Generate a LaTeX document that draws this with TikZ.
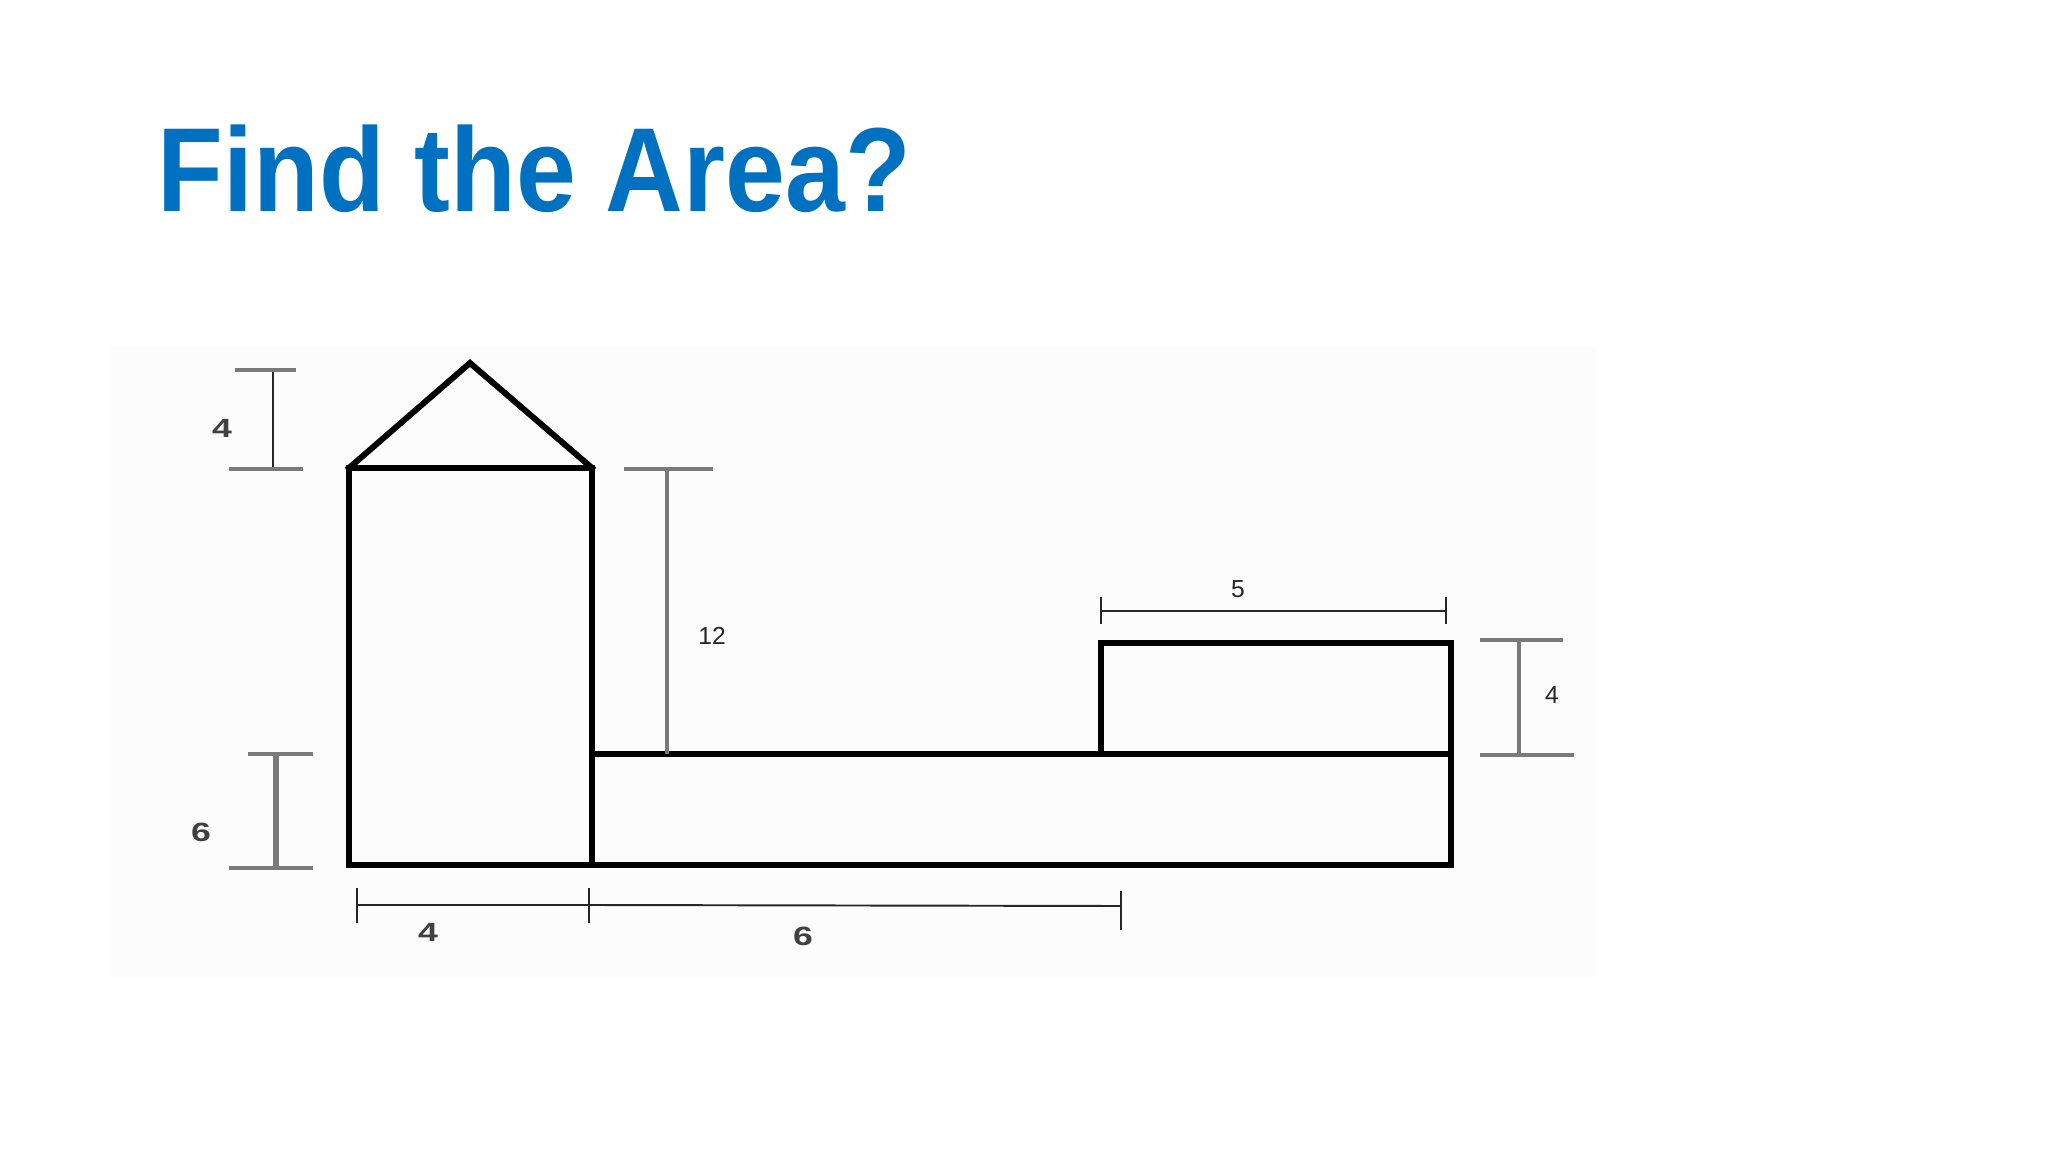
\documentclass[tikz,border=0pt]{standalone}
\usepackage{fontspec}
\setmainfont{Liberation Sans}
\definecolor{titleblue}{HTML}{0070C0}
\definecolor{dimgray}{HTML}{7A7A7A}
\begin{document}
\begin{tikzpicture}[x=0.01cm,y=-0.01cm,
  figline/.style={draw=black, line width=1.7pt, line join=miter, line cap=rect},
  dimthin/.style={draw=black!85, line width=0.55pt},
  dimtick/.style={draw=dimgray, line width=1.2pt},
  dimgrey/.style={draw=dimgray, line width=1.4pt},
  dimlabel/.style={font=\fontsize{7}{8}\selectfont, inner sep=0pt, text=black!85},
  widelabel/.style={dimlabel, font=\fontsize{7.5}{8}\selectfont\bfseries, text=black!75, xscale=1.35},
]
\useasboundingbox[fill=white] (0,0) rectangle (2048,1152);
\fill[black!1] (111,346) rectangle (1596,977);
\node[anchor=base west, inner sep=0pt, text=titleblue, xscale=0.9, font=\fontsize{34}{40}\selectfont\bfseries] (title) at (157,212) {Find the Area?};

% figure corners
\coordinate (A) at (349,468);
\coordinate (B) at (592,468);
\coordinate (C) at (470,363);
\coordinate (D) at (349,865);
\coordinate (K) at (592,865);
\coordinate (E) at (1451,865);
\coordinate (F) at (1451,754);
\coordinate (G) at (592,754);
\coordinate (H) at (1101,754);
\coordinate (I) at (1101,643);
\coordinate (J) at (1451,643);

\draw[figline] (A) -- (C) -- (B);
\draw[figline] (A) rectangle (K);
\draw[figline] (G) -- (F) -- (E) -- (D);
\draw[figline] (H) -- (I) -- (J) -- (F);

% left 4
\coordinate (l4t) at (273,370); \coordinate (l4b) at (273,469);
\draw[dimthin, line width=0.8pt] (l4t) -- (l4b);
\draw[dimtick] (235,370) -- (296,370);
\draw[dimtick] (229,469) -- (303,469);
\node[widelabel] (lab4l) at (222,428) {4};

% left 6
\coordinate (l6t) at (276,754); \coordinate (l6b) at (276,868);
\draw[dimgrey, line width=1.7pt] (l6t) -- (l6b);
\draw[dimtick] (248,754) -- (313,754);
\draw[dimtick] (229,868) -- (313,868);
\node[widelabel] (lab6l) at (201,832) {6};

% 12
\coordinate (d12t) at (667,469); \coordinate (d12b) at (667,754);
\draw[dimgrey] (d12t) -- (d12b);
\draw[dimtick] (624,469) -- (713,469);
\node[dimlabel] (lab12) at (712,636) {12};

% 5
\coordinate (d5l) at (1101,611); \coordinate (d5r) at (1446,611);
\draw[dimthin] (d5l) -- (d5r);
\draw[dimthin] (1101,597) -- (1101,624);
\draw[dimthin] (1446,597) -- (1446,624);
\node[dimlabel] (lab5) at (1238,589) {5};

% right 4
\coordinate (r4t) at (1519,640); \coordinate (r4b) at (1519,755);
\draw[dimgrey] (r4t) -- (r4b);
\draw[dimtick] (1480,640) -- (1563,640);
\draw[dimtick] (1480,755) -- (1574,755);
\node[dimlabel] (lab4r) at (1552,695) {4};

% bottom 4
\coordinate (b4l) at (357,905); \coordinate (b4r) at (589,905);
\draw[dimthin] (b4l) -- (b4r);
\draw[dimthin] (357,888) -- (357,923);
\draw[dimthin] (589,888) -- (589,923);
\node[widelabel] (lab4b) at (428,932) {4};

% bottom 6
\coordinate (b6r) at (1121,906);
\draw[dimthin] (b4r) -- (b6r);
\draw[dimthin] (1121,891) -- (1121,930);
\node[widelabel] (lab6b) at (803,936) {6};
\end{tikzpicture}
\end{document}
